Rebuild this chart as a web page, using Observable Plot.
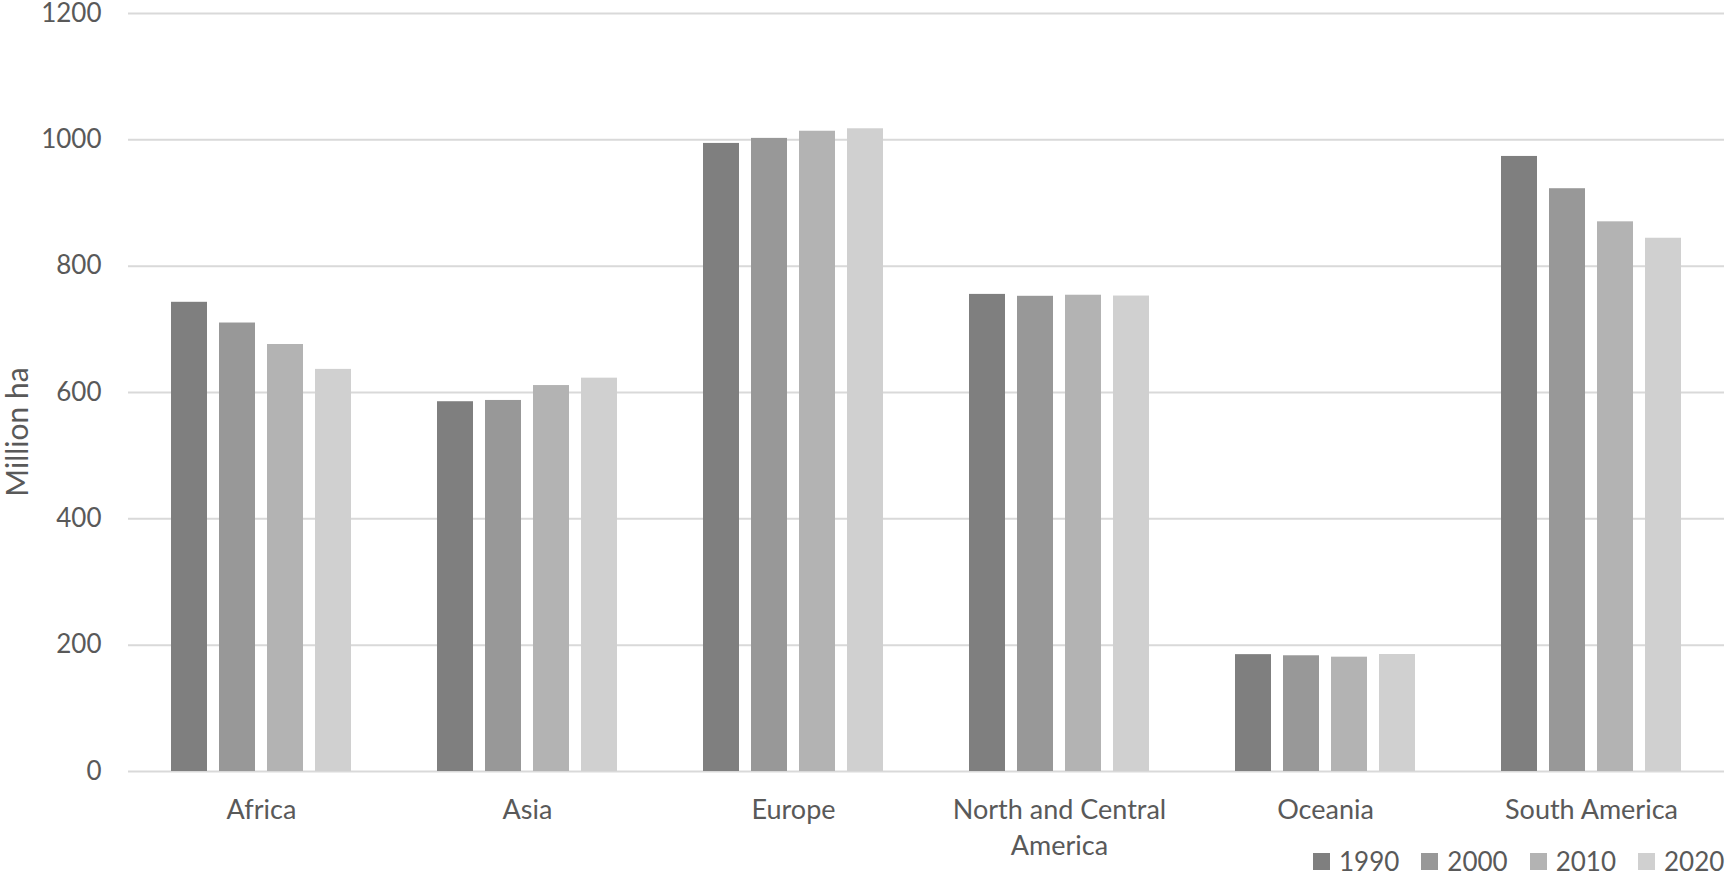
<!DOCTYPE html>
<html>
<head>
<meta charset="utf-8">
<script src="https://cdn.jsdelivr.net/npm/d3@7"></script>
<script src="https://cdn.jsdelivr.net/npm/@observablehq/plot@0.6"></script>
<style>
  html, body { margin: 0; padding: 0; background: #fff; }
  #wrap { position: relative; width: 1725px; height: 873px; overflow: hidden; font-family: Lato, "Open Sans", sans-serif; color: #595959; }
  #ylabel { position: absolute; left: 16px; top: 432px; transform: translate(-50%, -50%) rotate(-90deg); font-size: 30px; line-height: 1.1; white-space: nowrap; }
  #legend { position: absolute; left: 1313px; top: 848px; display: flex; align-items: center; font-size: 26px; line-height: 1; white-space: nowrap; }
  #legend .item { display: flex; align-items: center; margin-right: 22px; }
  #legend .sw { width: 17px; height: 17px; margin-right: 9px; }
</style>
</head>
<body>
<div id="wrap">
  <div id="chart"></div>
  <div id="ylabel"></div>
  <div id="legend"></div>
</div>
<script>
const continents = ["Africa", "Asia", "Europe", "North and Central America", "Oceania", "South America"];
const continentLabels = ["Africa", "Asia", "Europe", "North and Central\nAmerica", "Oceania", "South America"];
const years = ["1990", "2000", "2010", "2020"];
const values1990 = [742.8, 585.4, 994.3, 755.3, 185.0, 973.7];
const values2000 = [710.0, 587.4, 1002.3, 752.3, 183.2, 922.6];
const values2010 = [676.0, 611.0, 1013.6, 754.0, 181.0, 870.2];
const values2020 = [636.6, 622.7, 1017.5, 752.7, 185.2, 844.2];
const yTicks = [0, 200, 400, 600, 800, 1000, 1200];
const yTickLabels = ["0", "200", "400", "600", "800", "1000", "1200"];
const yTitle = "Million ha";
const colors = ["#7f7f7f", "#989898", "#b3b3b3", "#d0d0d0"];

const series = [values1990, values2000, values2010, values2020];
const rows = continents.flatMap((c, i) => years.map((yr, j) => ({continent: c, year: yr, value: series[j][i]})));

const chart = Plot.plot({
  width: 1725,
  height: 873,
  marginTop: 13,
  marginBottom: 102,
  marginLeft: 126,
  marginRight: 0,
  style: {fontFamily: "Lato, 'Open Sans', sans-serif", fontSize: "26px", color: "#595959", background: "white"},
  fx: {domain: continents, padding: 0, label: null, axis: null},
  x: {domain: years, paddingInner: 0.24, paddingOuter: 0.87, axis: null},
  y: {domain: [0, 1200], axis: null},
  color: {domain: years, range: colors},
  marks: [
    Plot.gridY(yTicks, {stroke: "#d9d9d9", strokeWidth: 2, strokeOpacity: 1}),
    Plot.barY(rows, {fx: "continent", x: "year", y: "value", fill: "year"}),
    Plot.axisY(yTicks, {tickSize: 0, tickPadding: 27, fontSize: 26, label: null,
      tickFormat: d => yTickLabels[yTicks.indexOf(d)]}),
    Plot.axisFx({anchor: "bottom", tickSize: 0, tickPadding: 22, fontSize: 27, lineHeight: 1.33, label: null,
      tickFormat: d => continentLabels[continents.indexOf(d)]})
  ]
});
document.getElementById("chart").appendChild(chart);

document.getElementById("ylabel").textContent = yTitle;
const legend = document.getElementById("legend");
years.forEach((yr, j) => {
  const item = document.createElement("div");
  item.className = "item";
  const sw = document.createElement("span");
  sw.className = "sw";
  sw.style.background = colors[j];
  const t = document.createElement("span");
  t.textContent = yr;
  item.appendChild(sw);
  item.appendChild(t);
  legend.appendChild(item);
});
</script>
</body>
</html>
